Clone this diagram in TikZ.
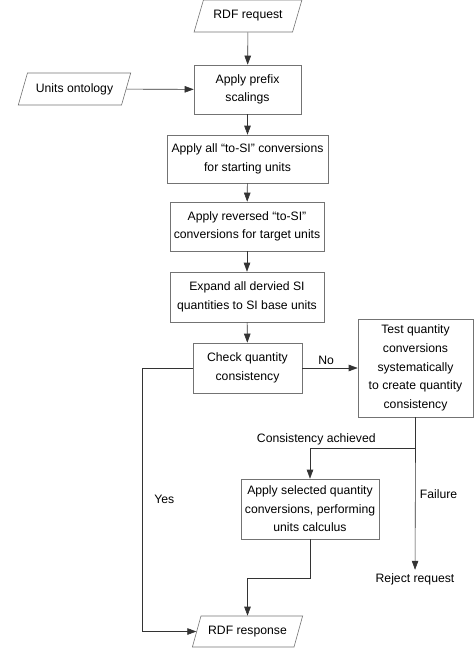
\documentclass[tikz,border=0pt]{standalone}
\usepackage{fontspec}
\setmainfont{Liberation Sans}
\usetikzlibrary{arrows.meta,shapes.geometric}

\begin{document}
\begin{tikzpicture}[x=1pt,y=-1pt,
  font=\fontsize{12.2}{18.6}\selectfont,
  box/.style={draw=black!55,line width=0.6pt,align=center,inner sep=1pt},
  io/.style={draw=black!55,line width=0.6pt,trapezium,trapezium left angle=60,trapezium right angle=120,trapezium stretches=true,inner sep=1pt},
  arr/.style={draw=black!80,line width=0.6pt,-{Triangle[length=9pt,width=6.5pt]}},
  lin/.style={draw=black!80,line width=0.6pt}]
\useasboundingbox (0,0) rectangle (474,656);

\node[io,minimum width=108,minimum height=32] (req) at (248,16) {RDF request};
\node[io,minimum width=113,minimum height=32] (onto) at (74.5,89) {Units ontology};
\node[box,minimum width=107,minimum height=49] (prefix) at (247.5,89.5) {Apply prefix\\scalings};
\node[box,minimum width=161,minimum height=48] (tosi) at (247.5,159) {Apply all “to-SI” conversions\\for starting units};
\node[box,minimum width=154,minimum height=49] (rev) at (247,226.5) {Apply reversed “to-SI”\\conversions for target units};
\node[box,minimum width=154,minimum height=50] (expand) at (247,297) {Expand all dervied SI\\quantities to SI base units};
\node[box,minimum width=109,minimum height=50] (check) at (247.5,368) {Check quantity\\consistency};
\node[box,minimum width=115,minimum height=98] (test) at (415.5,368) {Test quantity\\conversions\\systematically\\to create quantity\\consistency};
\node[box,minimum width=138,minimum height=60] (apply) at (310,509) {Apply selected quantity\\conversions, performing\\units calculus};
\node (rej) at (415,579) {Reject request};
\node[io,minimum width=111,minimum height=31] (resp) at (247.5,631.5) {RDF response};

\draw[arr] (req) -- (prefix);
\draw[arr] (onto) -- (prefix);
\draw[arr] (prefix) -- (tosi);
\draw[arr] (tosi) -- (rev);
\draw[arr] (rev) -- (expand);
\draw[arr] (expand) -- (check);
\draw[arr] (check) -- node[above,pos=0.43]{No} (test);
\draw[lin] (test.south) -- ++(0,31) coordinate (split);
\draw[arr] (split) -| node[above,pos=0.47]{Consistency achieved} (apply.north);
\draw[arr] (split) -- node[right,pos=0.38,xshift=1pt]{Failure} (rej);
\draw[arr] (apply.south) -- ++(0,39) -| (resp.north);
\draw[arr] (check.west) -- ++(-50,0) |- node[right,pos=0.25,xshift=8pt]{Yes} (resp.west);
\end{tikzpicture}
\end{document}
